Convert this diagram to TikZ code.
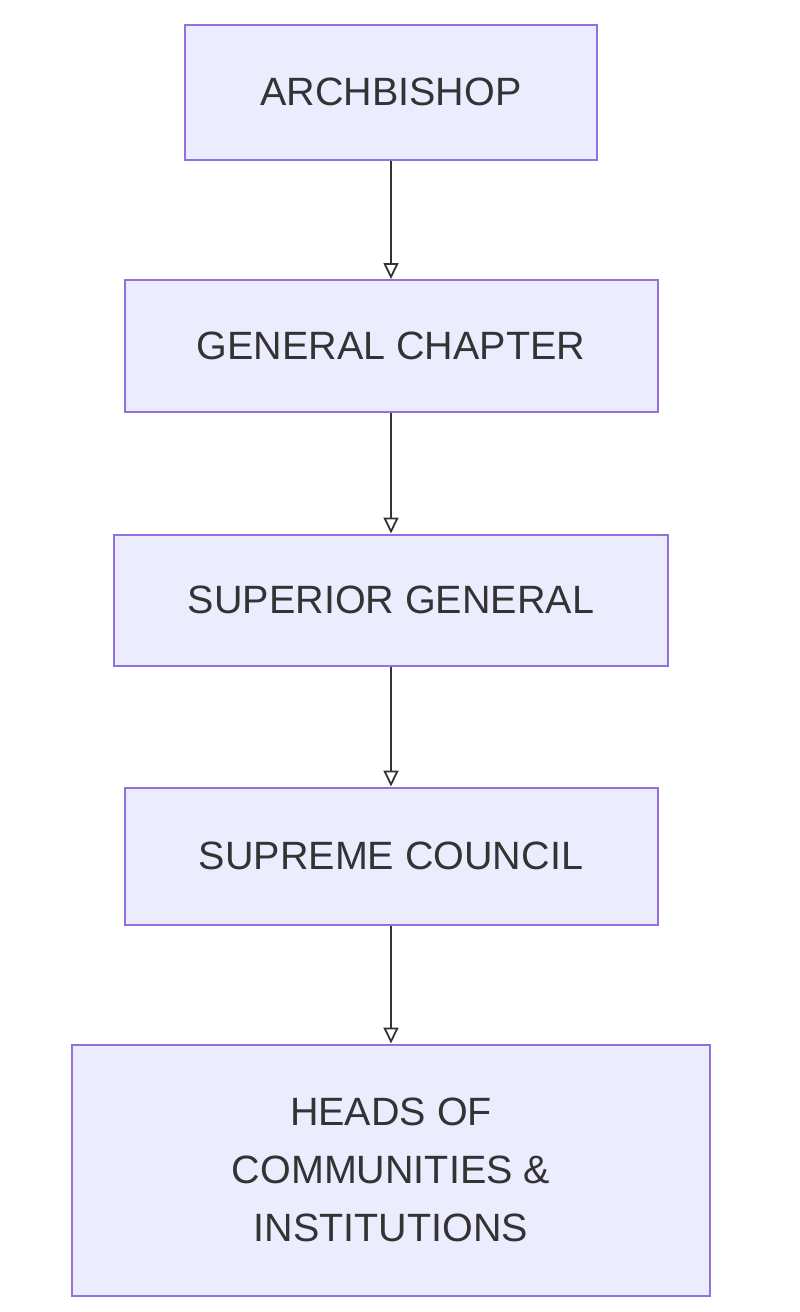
\documentclass[tikz,border=0pt]{standalone}
\usepackage{fontspec}
\setmainfont{Liberation Sans}
\usetikzlibrary{arrows.meta}
\definecolor{boxfill}{HTML}{ECECFF}
\definecolor{boxline}{HTML}{9370DB}
\definecolor{txt}{HTML}{333333}
\begin{document}
\begin{tikzpicture}[x=1pt,y=-1pt,
  box/.style={draw=boxline,fill=boxfill,line width=2pt,inner sep=0pt,
    text=txt,font=\fontsize{39.5}{58}\selectfont,align=center},
  arr/.style={draw=txt,line width=1.8pt,-{Triangle[open,length=16pt,width=15pt]}}]
\useasboundingbox (0,0) rectangle (800,1312);
\node[box,minimum width=412pt,minimum height=135pt] (a) at (391,92) {ARCHBISHOP};
\node[box,minimum width=533pt,minimum height=132pt] (b) at (391,346) {GENERAL CHAPTER};
\node[box,minimum width=554pt,minimum height=131pt] (c) at (391,600) {SUPERIOR GENERAL};
\node[box,minimum width=533pt,minimum height=137pt] (d) at (391,856) {SUPREME COUNCIL};
\node[box,minimum width=638pt,minimum height=251pt] (e) at (391,1170) {HEADS OF\\COMMUNITIES \&\\INSTITUTIONS};
\draw[arr] (a) -- (b);
\draw[arr] (b) -- (c);
\draw[arr] (c) -- (d);
\draw[arr] (d) -- (e);
\end{tikzpicture}
\end{document}
